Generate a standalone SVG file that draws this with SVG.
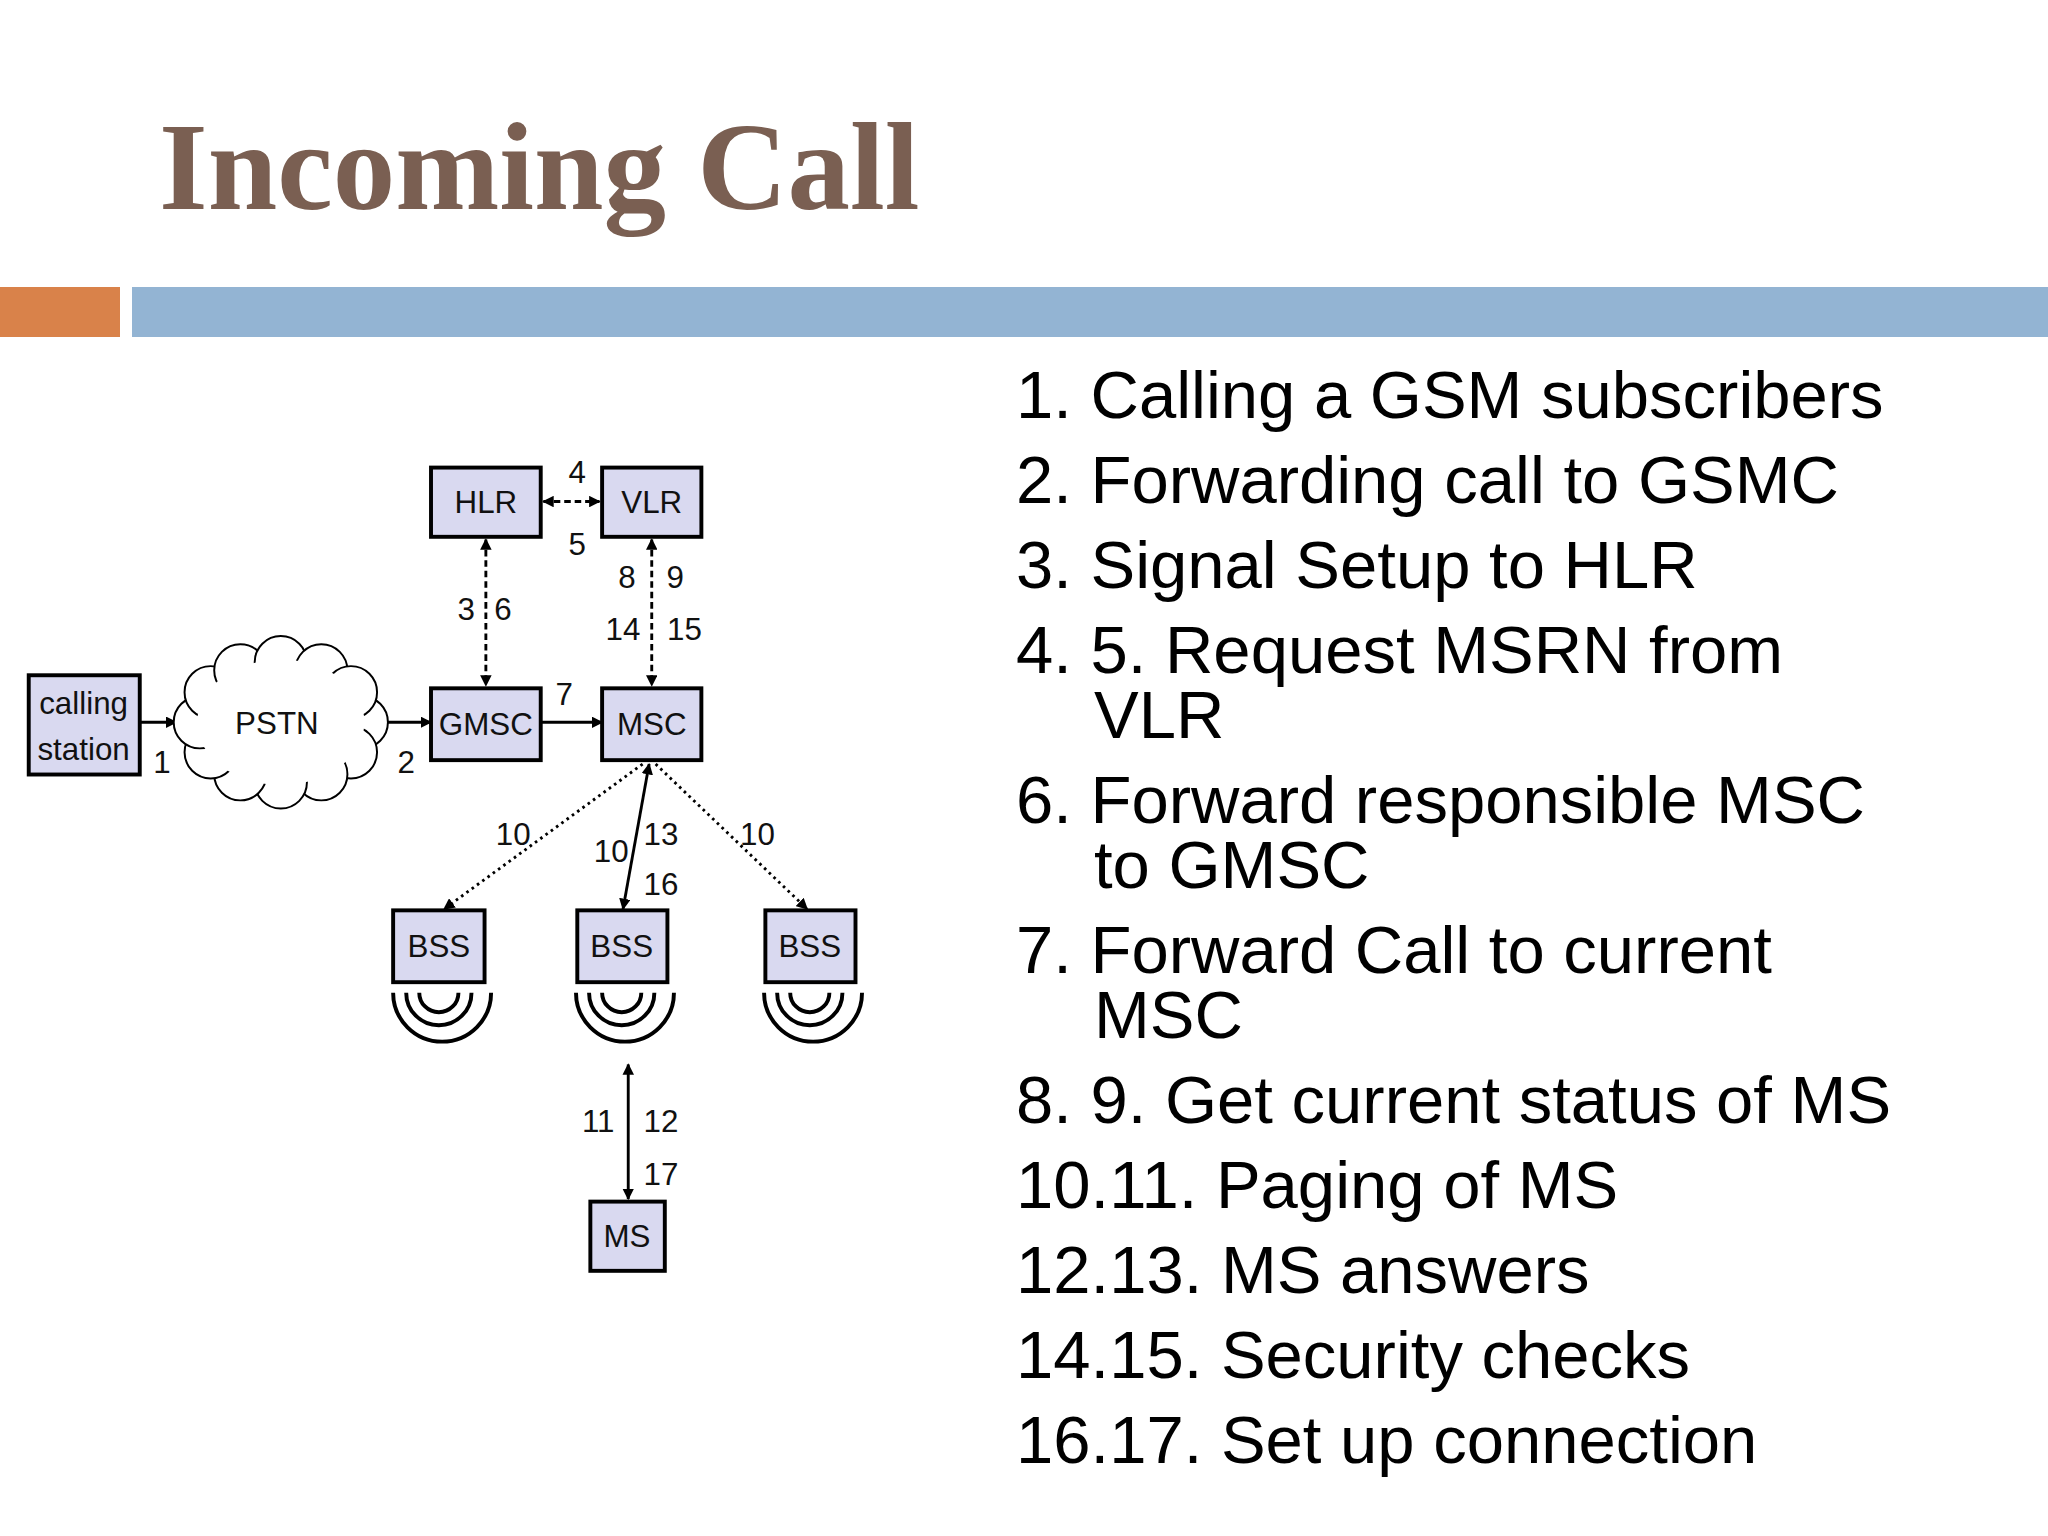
<svg xmlns="http://www.w3.org/2000/svg" width="2048" height="1536" viewBox="0 0 2048 1536">
<defs>
<style>
.box{fill:#d9d9f0;stroke:#000;stroke-width:3}
.bt{font-family:"Liberation Sans",Arial,sans-serif;font-size:24px;text-anchor:middle;fill:#111}
.lb{font-family:"Liberation Sans",Arial,sans-serif;font-size:24px;text-anchor:middle;fill:#111}
.ln{stroke:#000;stroke-width:2.2;fill:none}
.ds{stroke-dasharray:5 3}
.dt{stroke-dasharray:2 3}
.li{font-family:"Liberation Sans",Arial,sans-serif;font-size:67px;fill:#000}
.arc{fill:none;stroke:#000;stroke-width:3}
</style>
<marker id="a" viewBox="0 0 10 10" refX="9" refY="5" markerWidth="4" markerHeight="4" orient="auto-start-reverse"><path d="M0,0L10,5L0,10z" fill="#000"/></marker>
</defs>
<rect width="2048" height="1536" fill="#fff"/>
<text x="159" y="209" font-family="Liberation Serif,serif" font-weight="bold" font-size="125" fill="#7a5f52">Incoming Call</text>
<rect x="0" y="287" width="120" height="50" fill="#d9824a"/>
<rect x="132" y="287" width="1916" height="50" fill="#93b4d3"/>
<g id="list" class="li">
<text x="1016" y="418">1. Calling a GSM subscribers</text>
<text x="1016" y="503">2. Forwarding call to GSMC</text>
<text x="1016" y="588">3. Signal Setup to HLR</text>
<text x="1016" y="673">4. 5. Request MSRN from</text>
<text x="1094" y="738">VLR</text>
<text x="1016" y="823">6. Forward responsible MSC</text>
<text x="1094" y="888">to GMSC</text>
<text x="1016" y="973">7. Forward Call to current</text>
<text x="1094" y="1038">MSC</text>
<text x="1016" y="1123">8. 9. Get current status of MS</text>
<text x="1016" y="1208">10.11. Paging of MS</text>
<text x="1016" y="1293">12.13. MS answers</text>
<text x="1016" y="1378">14.15. Security checks</text>
<text x="1016" y="1463">16.17. Set up connection</text>
</g>
<g transform="scale(1.3061)">
<g id="connectors">
<line class="ln" x1="107" y1="553" x2="135" y2="553" marker-end="url(#a)"/>
<line class="ln" x1="295" y1="553" x2="330" y2="553" marker-end="url(#a)"/>
<line class="ln" x1="414" y1="553" x2="461" y2="553" marker-end="url(#a)"/>
<line class="ln ds" x1="416" y1="384" x2="459" y2="384" marker-start="url(#a)" marker-end="url(#a)"/>
<line class="ln ds" x1="372" y1="413" x2="372" y2="525" marker-start="url(#a)" marker-end="url(#a)"/>
<line class="ln ds" x1="499" y1="413" x2="499" y2="525" marker-start="url(#a)" marker-end="url(#a)"/>
<line class="ln dt" x1="492" y1="585" x2="340" y2="696" marker-end="url(#a)"/>
<line class="ln" x1="497" y1="585" x2="477" y2="696" marker-start="url(#a)" marker-end="url(#a)"/>
<line class="ln dt" x1="502" y1="585" x2="618" y2="696" marker-end="url(#a)"/>
<line class="ln" x1="481" y1="815" x2="481" y2="918" marker-start="url(#a)" marker-end="url(#a)"/>
<g class="lb">
<text x="124" y="592">1</text><text x="311" y="592">2</text><text x="432" y="540">7</text>
<text x="442" y="370">4</text><text x="442" y="425">5</text>
<text x="357" y="475">3</text><text x="385" y="475">6</text>
<text x="480" y="450">8</text><text x="517" y="450">9</text>
<text x="477" y="490">14</text><text x="524" y="490">15</text>
<text x="393" y="647">10</text><text x="468" y="660">10</text>
<text x="506" y="647">13</text><text x="506" y="685">16</text><text x="580" y="647">10</text>
<text x="458" y="867">11</text><text x="506" y="867">12</text><text x="506" y="907">17</text>
</g>
</g>
<g id="pstn">
<g fill="#fff" stroke="#000" stroke-width="1.5">
<circle cx="277" cy="553" r="20"/><circle cx="268.7" cy="576" r="20"/><circle cx="246" cy="592.8" r="20"/><circle cx="215" cy="599" r="20"/><circle cx="184" cy="592.8" r="20"/><circle cx="161.3" cy="576" r="20"/><circle cx="153" cy="553" r="20"/><circle cx="161.3" cy="530" r="20"/><circle cx="184" cy="513.2" r="20"/><circle cx="215" cy="507" r="20"/><circle cx="246" cy="513.2" r="20"/><circle cx="268.7" cy="530" r="20"/>
</g>
<ellipse cx="215" cy="553" rx="64" ry="48" fill="#fff"/>
<text class="bt" x="212" y="562">PSTN</text>
</g>
<g id="calling"><rect class="box" x="22" y="517" width="85" height="76"/><text class="bt" x="64" y="547">calling</text><text class="bt" x="64" y="582">station</text></g>
<g id="hlr"><rect class="box" x="330" y="358" width="84" height="53"/><text class="bt" x="372" y="393">HLR</text></g>
<g id="vlr"><rect class="box" x="461" y="358" width="76" height="53"/><text class="bt" x="499" y="393">VLR</text></g>
<g id="gmsc"><rect class="box" x="330" y="527" width="84" height="55"/><text class="bt" x="372" y="563">GMSC</text></g>
<g id="msc"><rect class="box" x="461" y="527" width="76" height="55"/><text class="bt" x="499" y="563">MSC</text></g>
<g id="bss1"><rect class="box" x="301" y="697" width="70" height="55"/><text class="bt" x="336" y="733">BSS</text>
<path class="arc" d="M321,760A15,15 0 0 0 351,760M311,760A25,25 0 0 0 361,760M301,760A37,37 0 0 0 376,760"/></g>
<g id="bss2"><rect class="box" x="442" y="697" width="69" height="55"/><text class="bt" x="476" y="733">BSS</text>
<path class="arc" d="M461,760A15,15 0 0 0 491,760M451,760A25,25 0 0 0 501,760M441,760A37,37 0 0 0 516,760"/></g>
<g id="bss3"><rect class="box" x="586" y="697" width="69" height="55"/><text class="bt" x="620" y="733">BSS</text>
<path class="arc" d="M605,760A15,15 0 0 0 635,760M595,760A25,25 0 0 0 645,760M585,760A37,37 0 0 0 660,760"/></g>
<g id="ms"><rect class="box" x="452" y="920" width="57" height="53"/><text class="bt" x="480" y="955">MS</text></g>
</g>
</svg>
